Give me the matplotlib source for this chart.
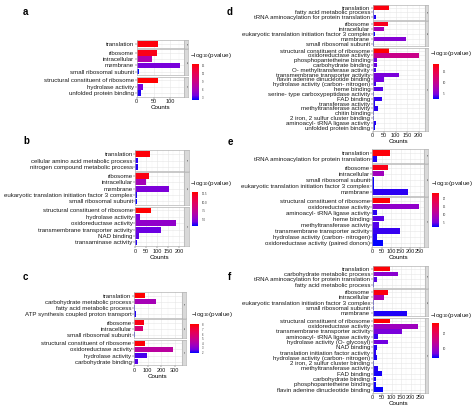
import matplotlib
matplotlib.use('Agg')
import matplotlib.pyplot as plt
from matplotlib.colors import LinearSegmentedColormap, Normalize
from matplotlib.cm import ScalarMappable

plt.rcParams['font.family'] = ['Liberation Sans', 'DejaVu Sans']
plt.rcParams['mathtext.fontset'] = 'custom'
plt.rcParams['mathtext.rm'] = 'Liberation Sans'

W, H = 474, 408

# ---- data: GO terms, ontology, gene counts, -log10(pvalue) ----
a_terms = ['translation',
           'ribosome', 'intracellular', 'membrane', 'small ribosomal subunit',
           'structural constituent of ribosome', 'hydrolase activity', 'unfolded protein binding']
a_onto = ['BP', 'CC', 'CC', 'CC', 'CC', 'MF', 'MF', 'MF']
a_counts = [62, 59, 45, 128, 7, 63, 19, 12]
a_logp = [15.2, 14.8, 6.8, 4.0, 2.0, 15.6, 4.0, 2.5]

b_terms = ['translation', 'cellular amino acid metabolic process', 'nitrogen compound metabolic process',
           'ribosome', 'intracellular', 'membrane', 'eukaryotic translation initiation factor 3 complex',
           'small ribosomal subunit',
           'structural constituent of ribosome', 'hydrolase activity', 'oxidoreductase activity',
           'transmembrane transporter activity', 'NAD binding', 'transaminase activity']
b_onto = ['BP'] * 3 + ['CC'] * 5 + ['MF'] * 6
b_counts = [68, 11, 12, 63, 50, 154, 7, 7, 70, 23, 188, 118, 19, 8]
b_logp = [12.8, 3.5, 3.4, 12.5, 6.0, 4.6, 3.3, 3.0, 13.0, 4.6, 5.2, 4.2, 4.0, 3.4]

c_terms = ['translation', 'carbohydrate metabolic process', 'fatty acid metabolic process',
           'ATP synthesis coupled proton transport',
           'ribosome', 'intracellular', 'small ribosomal subunit',
           'structural constituent of ribosome', 'oxidoreductase activity', 'hydrolase activity',
           'carbohydrate binding']
c_onto = ['BP'] * 4 + ['CC'] * 3 + ['MF'] * 4
c_counts = [81, 162, 11, 13, 74, 66, 11, 81, 283, 96, 26]
c_logp = [8.1, 3.8, 2.0, 2.1, 7.8, 5.6, 1.9, 8.0, 4.4, 2.4, 2.5]

d_terms = ['translation', 'fatty acid metabolic process', 'tRNA aminoacylation for protein translation',
           'ribosome', 'intracellular', 'eukaryotic translation initiation factor 3 complex', 'membrane',
           'small ribosomal subunit',
           'structural constituent of ribosome', 'oxidoreductase activity', 'phosphopantetheine binding',
           'carbohydrate binding', 'O- methyltransferase activity', 'transmembrane transporter activity',
           'flavin adenine dinucleotide binding', 'hydrolase activity (carbon- nitrogen)', 'heme binding',
           'serine- type carboxypeptidase activity', 'FAD binding', 'transferase activity',
           'methyltransferase activity', 'chitin binding', '2 iron, 2 sulfur cluster binding',
           'aminoacyl- tRNA ligase activity', 'unfolded protein binding']
d_onto = ['BP'] * 3 + ['CC'] * 5 + ['MF'] * 17
d_counts = [71, 6, 14, 67, 48, 8, 143, 6, 72, 201, 17, 20, 13, 113, 48, 16, 45, 6, 40, 11, 24, 7, 6, 16, 10]
d_logp = [17.5, 2.9, 3.2, 17.0, 7.3, 3.0, 5.5, 2.7, 18.1, 10.4, 4.5, 4.5, 3.8, 5.0, 4.7, 3.8, 4.2,
          3.0, 3.6, 3.2, 3.4, 3.0, 2.9, 3.3, 3.0]

e_terms = ['translation', 'tRNA aminoacylation for protein translation',
           'ribosome', 'intracellular', 'small ribosomal subunit',
           'eukaryotic translation initiation factor 3 complex', 'membrane',
           'structural constituent of ribosome', 'oxidoreductase activity', 'aminoacyl- tRNA ligase activity',
           'heme binding', 'methyltransferase activity', 'transmembrane transporter activity',
           'hydrolase activity (carbon- nitrogen)', 'oxidoreductase activity (paired donors)']
e_onto = ['BP'] * 2 + ['CC'] * 5 + ['MF'] * 8
e_counts = [92, 23, 85, 62, 7, 11, 190, 93, 247, 25, 62, 34, 149, 25, 54]
e_logp = [23.5, 3.0, 22.8, 8.3, 2.4, 2.5, 3.3, 24.0, 7.0, 3.2, 4.4, 4.2, 3.5, 3.0, 2.2]

f_terms = ['translation', 'carbohydrate metabolic process', 'tRNA aminoacylation for protein translation',
           'fatty acid metabolic process',
           'ribosome', 'intracellular', 'eukaryotic translation initiation factor 3 complex',
           'small ribosomal subunit', 'membrane',
           'structural constituent of ribosome', 'oxidoreductase activity', 'transmembrane transporter activity',
           'aminoacyl- tRNA ligase activity', 'hydrolase activity (O- glycosyl)', 'NAD binding',
           'translation initiation factor activity', 'hydrolase activity (carbon- nitrogen)',
           '2 iron, 2 sulfur cluster binding', 'methyltransferase activity', 'FAD binding',
           'carbohydrate binding', 'phosphopantetheine binding', 'flavin adenine dinucleotide binding']
f_onto = ['BP'] * 4 + ['CC'] * 5 + ['MF'] * 14
f_counts = [90, 132, 21, 7, 82, 62, 8, 7, 180, 92, 240, 157, 26, 82, 23, 15, 23, 7, 29, 49, 20, 16, 56]
f_logp = [27.0, 7.9, 5.4, 3.3, 26.5, 11.0, 3.5, 3.2, 3.8, 27.3, 9.6, 6.6, 4.5, 6.0, 4.0, 4.2, 3.8,
          3.0, 4.0, 3.6, 3.8, 3.5, 3.2]

# blue -> red, interpolated like ggplot (Lab space)
cmap = LinearSegmentedColormap.from_list(
    'bluered', ['#0000FF', '#7300E0', '#9A00C3', '#B500A5', '#C90088',
                '#DA006C', '#E80050', '#F40031', '#FF0000'])


def px_axes(fig, left, top, right, bottom):
    return fig.add_axes([left / W, 1 - bottom / H, (right - left) / W, (bottom - top) / H])


def draw_panel(fig, terms, onto, counts, logp, p):
    left, top, right, bottom, strip_r = p['box']
    norm = Normalize(min(logp), max(logp))
    groups = ['BP', 'CC', 'MF']
    sizes = [onto.count(g) + 0.2 for g in groups]
    gap = 1.3
    avail = bottom - top - gap * 2
    y = top
    for i, g in enumerate(groups):
        idx = [k for k, o in enumerate(onto) if o == g]
        n = len(idx)
        hh = avail * sizes[i] / sum(sizes)
        ax = px_axes(fig, left, y, right, y + hh)
        ax.set_axisbelow(True)
        ax.barh(range(n), [counts[k] for k in idx], height=0.9,
                color=[cmap(norm(logp[k])) for k in idx])
        ax.set_ylim(n - 0.4, -0.6)
        ax.set_xlim(0, p['xmax'])
        ax.set_yticks(range(n))
        ax.set_yticklabels([terms[k] for k in idx], fontsize=4.4, color='#1a1a1a')
        ax.set_xticks(p['xticks'])
        mids = [t + (p['xticks'][1] - p['xticks'][0]) / 2 for t in p['xticks']]
        ax.set_xticks(mids, minor=True)
        ax.grid(True, which='major', color='#e6e6e6', lw=0.4)
        ax.grid(True, which='minor', axis='x', color='#f2f2f2', lw=0.3)
        ax.tick_params(axis='y', length=1.2, width=0.3, pad=0.6, color='#333333')
        ax.tick_params(axis='x', which='minor', length=0)
        if i == 2:
            ax.tick_params(axis='x', length=1.2, width=0.3, pad=0.8, labelsize=4.0,
                           color='#333333', labelcolor='#1a1a1a')
            ax.set_xlabel('Counts', fontsize=4.5, labelpad=0.6)
        else:
            ax.tick_params(axis='x', length=0, labelbottom=False)
        for s in ax.spines.values():
            s.set_color('#b3b3b3')
            s.set_linewidth(0.5)
        sax = px_axes(fig, right, y, strip_r, y + hh)
        sax.set_facecolor('#d9d9d9')
        sax.set_xticks([])
        sax.set_yticks([])
        for s in sax.spines.values():
            s.set_color('#b3b3b3')
            s.set_linewidth(0.5)
        sax.text(0.5, 0.5, g, rotation=-90, fontsize=1.6, color='#333333',
                 ha='center', va='center', transform=sax.transAxes)
        y += hh + gap

    cx0, cy0, cx1, cy1 = p['cbox']
    cax = px_axes(fig, cx0, cy0, cx1, cy1)
    cb = fig.colorbar(ScalarMappable(norm=norm, cmap=cmap), cax=cax, ticks=p['cticks'])
    cb.outline.set_visible(False)
    cb.ax.set_yticklabels([p['cfmt'] % t for t in p['cticks']])
    cb.ax.tick_params(length=0, pad=2.5, labelsize=2.0, labelcolor='#333333')
    tx, ty = p['title_xy']
    fig.text(tx / W, 1 - ty / H, '\u2212log$_{10}$(pvalue)', fontsize=4.6,
             color='#1a1a1a', va='center', ha='left')
    lx, ly = p['letter_xy']
    fig.text(lx / W, 1 - ly / H, p['letter'], fontsize=7, fontweight='bold',
             ha='center', va='center')


layout = {
    'a': dict(letter='a', letter_xy=(25.7, 11.7), box=(136.7, 40.3, 184.0, 96.7, 188.3),
              xmax=140, xticks=[0, 50, 100], cbox=(192, 64, 198.5, 100),
              cticks=[3, 6, 9, 12, 15], cfmt='%d', title_xy=(190, 55)),
    'b': dict(letter='b', letter_xy=(26.7, 141), box=(135.3, 150.3, 184.3, 246.3, 189),
              xmax=197, xticks=[0, 50, 100, 150, 200], cbox=(191.7, 192.3, 198, 226),
              cticks=[5, 7.5, 10, 12.5], cfmt='%.1f', title_xy=(190, 184)),
    'c': dict(letter='c', letter_xy=(25.7, 277), box=(134, 292, 181.7, 365.3, 185.7),
              xmax=305, xticks=[0, 100, 200, 300], cbox=(190, 324.3, 198.5, 353),
              cticks=[2, 3, 4, 5, 6, 7, 8], cfmt='%d', title_xy=(190.7, 314.3)),
    'd': dict(letter='d', letter_xy=(230, 11.7), box=(372.7, 4.7, 424.5, 130.5, 428),
              xmax=210, xticks=[0, 50, 100, 150, 200], cbox=(432.7, 64, 439.3, 99),
              cticks=[5, 10, 15], cfmt='%d', title_xy=(430, 54)),
    'e': dict(letter='e', letter_xy=(230, 141.7), box=(372.3, 149.3, 424.3, 246.7, 428),
              xmax=255, xticks=[0, 50, 100, 150, 200, 250], cbox=(432, 192.5, 439, 227),
              cticks=[5, 10, 15, 20], cfmt='%d', title_xy=(430.7, 183.7)),
    'f': dict(letter='f', letter_xy=(230, 277), box=(372.7, 265.5, 424.7, 392.7, 427.7),
              xmax=255, xticks=[0, 50, 100, 150, 200, 250], cbox=(432.3, 323.3, 439, 358),
              cticks=[10, 20], cfmt='%d', title_xy=(430, 315)),
}

fig = plt.figure(figsize=(W / 100, H / 100), dpi=100)
draw_panel(fig, a_terms, a_onto, a_counts, a_logp, layout['a'])
draw_panel(fig, b_terms, b_onto, b_counts, b_logp, layout['b'])
draw_panel(fig, c_terms, c_onto, c_counts, c_logp, layout['c'])
draw_panel(fig, d_terms, d_onto, d_counts, d_logp, layout['d'])
draw_panel(fig, e_terms, e_onto, e_counts, e_logp, layout['e'])
draw_panel(fig, f_terms, f_onto, f_counts, f_logp, layout['f'])
fig.savefig('out.png', dpi=100)
